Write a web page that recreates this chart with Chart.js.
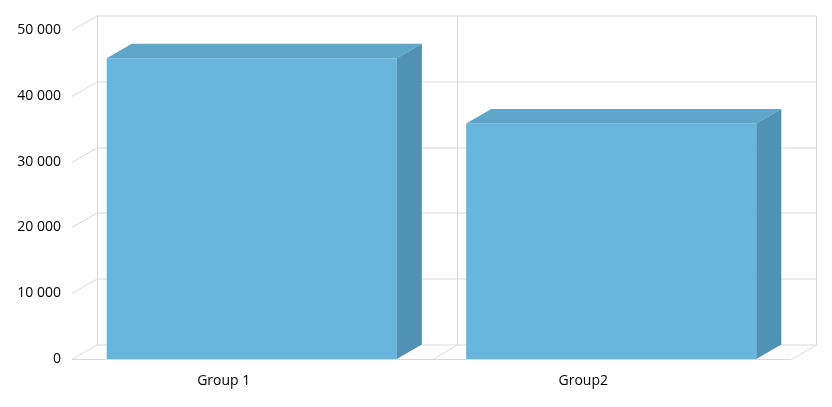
<!DOCTYPE html>
<html>
<head>
<meta charset="utf-8">
<script src="https://cdn.jsdelivr.net/npm/chart.js@4"></script>
<style>
  html, body { margin: 0; padding: 0; background: #fff; }
  #chart { display: block; }
</style>
</head>
<body>
<canvas id="chart" width="832" height="407"></canvas>
<script>
// data
const categories = ["Group 1", "Group2"];
const values = [45700, 35800];
const yMax = 50000;
const yStep = 10000;

// 3d look
const depthX = 25, depthY = 14.5;
const gridColor = "#d9d9d9";
const frontColor = "#67b5dc";
const topColor = "#5ea6ca";
const sideColor = "#5191b3";

function spaced(v) {
  return String(v).replace(/\B(?=(\d{3})+(?!\d))/g, " ");
}

const walls = {
  id: "walls",
  beforeDatasetsDraw(chart) {
    const ctx = chart.ctx;
    const x = chart.scales.x, y = chart.scales.y;
    const L = x.left, R = x.right;
    const y0 = y.getPixelForValue(0);
    const yTop = y.getPixelForValue(yMax);
    ctx.save();
    ctx.strokeStyle = gridColor;
    ctx.lineWidth = 1;
    ctx.beginPath();
    // horizontal lines on back wall + diagonals on side wall
    y.ticks.forEach(t => {
      const py = Math.round(y.getPixelForValue(t.value)) + 0.5;
      ctx.moveTo(L, py);
      ctx.lineTo(L + depthX, py - depthY);
      ctx.lineTo(R + depthX, py - depthY);
    });
    // front floor edge
    const fy = Math.round(y0) + 0.5;
    ctx.moveTo(L, fy);
    ctx.lineTo(R, fy);
    // verticals on back wall and floor diagonals at category edges
    const n = categories.length;
    for (let i = 0; i <= n; i++) {
      const px = Math.round(L + (R - L) * i / n) + 0.5;
      if (i > 0) {
        ctx.moveTo(px, fy);
        ctx.lineTo(px + depthX, fy - depthY);
      }
      ctx.moveTo(px + depthX, fy - depthY);
      ctx.lineTo(px + depthX, Math.round(yTop) + 0.5 - depthY);
    }
    ctx.stroke();
    ctx.restore();
  },
  afterDatasetsDraw(chart) {
    const ctx = chart.ctx;
    const meta = chart.getDatasetMeta(0);
    ctx.save();
    meta.data.forEach(bar => {
      const p = bar.getProps(["x", "y", "base", "width"], true);
      const l = p.x - p.width / 2, r = p.x + p.width / 2;
      // top face
      ctx.fillStyle = topColor;
      ctx.beginPath();
      ctx.moveTo(l, p.y);
      ctx.lineTo(l + depthX, p.y - depthY);
      ctx.lineTo(r + depthX, p.y - depthY);
      ctx.lineTo(r, p.y);
      ctx.closePath();
      ctx.fill();
      // side face
      ctx.fillStyle = sideColor;
      ctx.beginPath();
      ctx.moveTo(r, p.y);
      ctx.lineTo(r + depthX, p.y - depthY);
      ctx.lineTo(r + depthX, p.base - depthY);
      ctx.lineTo(r, p.base);
      ctx.closePath();
      ctx.fill();
    });
    ctx.restore();
  }
};

new Chart("chart", {
  type: "bar",
  data: {
    labels: categories,
    datasets: [{
      data: values,
      backgroundColor: frontColor,
      borderWidth: 0,
      categoryPercentage: 1,
      barPercentage: 0.807
    }]
  },
  options: {
    responsive: false,
    animation: false,
    layout: { padding: { top: 30, right: 41, left: 0, bottom: 0 } },
    plugins: { legend: { display: false }, tooltip: { enabled: false } },
    scales: {
      x: {
        grid: { display: false, drawTicks: false },
        border: { display: false },
        ticks: {
          color: "#000",
          font: { family: "'Open Sans'", size: 14 },
          padding: 14,
          labelOffset: -28
        },
        afterFit(s) { s.height = 48; }
      },
      y: {
        min: 0,
        max: yMax,
        grid: { display: false, drawTicks: false },
        border: { display: false },
        ticks: {
          stepSize: yStep,
          color: "#000",
          font: { family: "'Open Sans'", size: 14 },
          padding: 11,
          callback: v => spaced(v)
        },
        afterFit(s) { s.width = 72; }
      }
    }
  },
  plugins: [walls]
});
</script>
</body>
</html>
